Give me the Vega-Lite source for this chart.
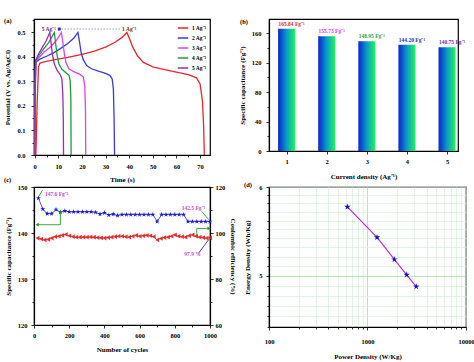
{
"$schema": "https://vega.github.io/schema/vega-lite/v6.json",
"background": "white",
"padding": {"left": 3, "top": 16, "right": 2, "bottom": 4},
"datasets": {
"gcd": [
{"r":"1 Ag⁻¹","i":0,"t":0.5,"v":0},{"r":"1 Ag⁻¹","i":1,"t":1.0,"v":0.2},{"r":"1 Ag⁻¹","i":2,"t":1.6,"v":0.36},{"r":"1 Ag⁻¹","i":3,"t":2.2,"v":0.375},{"r":"1 Ag⁻¹","i":4,"t":4,"v":0.38},{"r":"1 Ag⁻¹","i":5,"t":8,"v":0.388},{"r":"1 Ag⁻¹","i":6,"t":14,"v":0.398},{"r":"1 Ag⁻¹","i":7,"t":20,"v":0.411},{"r":"1 Ag⁻¹","i":8,"t":25,"v":0.423},{"r":"1 Ag⁻¹","i":9,"t":30,"v":0.44},{"r":"1 Ag⁻¹","i":10,"t":34,"v":0.46},{"r":"1 Ag⁻¹","i":11,"t":37,"v":0.48},{"r":"1 Ag⁻¹","i":12,"t":39,"v":0.5},{"r":"1 Ag⁻¹","i":13,"t":40,"v":0.478},{"r":"1 Ag⁻¹","i":14,"t":41.5,"v":0.44},{"r":"1 Ag⁻¹","i":15,"t":43.5,"v":0.405},{"r":"1 Ag⁻¹","i":16,"t":46,"v":0.378},{"r":"1 Ag⁻¹","i":17,"t":50,"v":0.36},{"r":"1 Ag⁻¹","i":18,"t":55,"v":0.348},{"r":"1 Ag⁻¹","i":19,"t":60,"v":0.338},{"r":"1 Ag⁻¹","i":20,"t":65,"v":0.328},{"r":"1 Ag⁻¹","i":21,"t":68.5,"v":0.315},{"r":"1 Ag⁻¹","i":22,"t":70,"v":0.29},{"r":"1 Ag⁻¹","i":23,"t":71,"v":0.22},{"r":"1 Ag⁻¹","i":24,"t":71.5,"v":0.12},{"r":"1 Ag⁻¹","i":25,"t":71.8,"v":0},
{"r":"2 Ag⁻¹","i":0,"t":0.1,"v":0},{"r":"2 Ag⁻¹","i":1,"t":0.3,"v":0.3},{"r":"2 Ag⁻¹","i":2,"t":0.6,"v":0.38},{"r":"2 Ag⁻¹","i":3,"t":2,"v":0.39},{"r":"2 Ag⁻¹","i":4,"t":5,"v":0.403},{"r":"2 Ag⁻¹","i":5,"t":8,"v":0.417},{"r":"2 Ag⁻¹","i":6,"t":11,"v":0.435},{"r":"2 Ag⁻¹","i":7,"t":14,"v":0.455},{"r":"2 Ag⁻¹","i":8,"t":16.5,"v":0.476},{"r":"2 Ag⁻¹","i":9,"t":18.3,"v":0.5},{"r":"2 Ag⁻¹","i":10,"t":19,"v":0.46},{"r":"2 Ag⁻¹","i":11,"t":19.6,"v":0.42},{"r":"2 Ag⁻¹","i":12,"t":20.5,"v":0.39},{"r":"2 Ag⁻¹","i":13,"t":22,"v":0.365},{"r":"2 Ag⁻¹","i":14,"t":24,"v":0.352},{"r":"2 Ag⁻¹","i":15,"t":27,"v":0.342},{"r":"2 Ag⁻¹","i":16,"t":30,"v":0.333},{"r":"2 Ag⁻¹","i":17,"t":31.8,"v":0.325},{"r":"2 Ag⁻¹","i":18,"t":32.8,"v":0.31},{"r":"2 Ag⁻¹","i":19,"t":33.3,"v":0.27},{"r":"2 Ag⁻¹","i":20,"t":33.6,"v":0.15},{"r":"2 Ag⁻¹","i":21,"t":33.8,"v":0},
{"r":"3 Ag⁻¹","i":0,"t":0.1,"v":0},{"r":"3 Ag⁻¹","i":1,"t":0.3,"v":0.3},{"r":"3 Ag⁻¹","i":2,"t":0.5,"v":0.385},{"r":"3 Ag⁻¹","i":3,"t":2,"v":0.4},{"r":"3 Ag⁻¹","i":4,"t":4,"v":0.42},{"r":"3 Ag⁻¹","i":5,"t":6.5,"v":0.44},{"r":"3 Ag⁻¹","i":6,"t":9,"v":0.465},{"r":"3 Ag⁻¹","i":7,"t":11.3,"v":0.5},{"r":"3 Ag⁻¹","i":8,"t":11.9,"v":0.46},{"r":"3 Ag⁻¹","i":9,"t":12.6,"v":0.41},{"r":"3 Ag⁻¹","i":10,"t":13.3,"v":0.375},{"r":"3 Ag⁻¹","i":11,"t":14.5,"v":0.352},{"r":"3 Ag⁻¹","i":12,"t":16.5,"v":0.34},{"r":"3 Ag⁻¹","i":13,"t":19,"v":0.33},{"r":"3 Ag⁻¹","i":14,"t":20.6,"v":0.318},{"r":"3 Ag⁻¹","i":15,"t":21.2,"v":0.28},{"r":"3 Ag⁻¹","i":16,"t":21.5,"v":0.18},{"r":"3 Ag⁻¹","i":17,"t":21.6,"v":0},
{"r":"4 Ag⁻¹","i":0,"t":0.05,"v":0},{"r":"4 Ag⁻¹","i":1,"t":0.2,"v":0.3},{"r":"4 Ag⁻¹","i":2,"t":0.4,"v":0.385},{"r":"4 Ag⁻¹","i":3,"t":2,"v":0.41},{"r":"4 Ag⁻¹","i":4,"t":4,"v":0.435},{"r":"4 Ag⁻¹","i":5,"t":6,"v":0.46},{"r":"4 Ag⁻¹","i":6,"t":8.3,"v":0.5},{"r":"4 Ag⁻¹","i":7,"t":8.8,"v":0.46},{"r":"4 Ag⁻¹","i":8,"t":9.5,"v":0.405},{"r":"4 Ag⁻¹","i":9,"t":10.3,"v":0.37},{"r":"4 Ag⁻¹","i":10,"t":11.5,"v":0.35},{"r":"4 Ag⁻¹","i":11,"t":13,"v":0.338},{"r":"4 Ag⁻¹","i":12,"t":14.5,"v":0.325},{"r":"4 Ag⁻¹","i":13,"t":15,"v":0.305},{"r":"4 Ag⁻¹","i":14,"t":15.3,"v":0.23},{"r":"4 Ag⁻¹","i":15,"t":15.4,"v":0},
{"r":"5 Ag⁻¹","i":0,"t":0.05,"v":0},{"r":"5 Ag⁻¹","i":1,"t":0.15,"v":0.3},{"r":"5 Ag⁻¹","i":2,"t":0.3,"v":0.385},{"r":"5 Ag⁻¹","i":3,"t":1.5,"v":0.41},{"r":"5 Ag⁻¹","i":4,"t":3,"v":0.435},{"r":"5 Ag⁻¹","i":5,"t":4.8,"v":0.465},{"r":"5 Ag⁻¹","i":6,"t":6.4,"v":0.5},{"r":"5 Ag⁻¹","i":7,"t":6.9,"v":0.46},{"r":"5 Ag⁻¹","i":8,"t":7.5,"v":0.41},{"r":"5 Ag⁻¹","i":9,"t":8.3,"v":0.372},{"r":"5 Ag⁻¹","i":10,"t":9.5,"v":0.345},{"r":"5 Ag⁻¹","i":11,"t":10.8,"v":0.328},{"r":"5 Ag⁻¹","i":12,"t":11.5,"v":0.31},{"r":"5 Ag⁻¹","i":13,"t":11.9,"v":0.25},{"r":"5 Ag⁻¹","i":14,"t":12.1,"v":0.15},{"r":"5 Ag⁻¹","i":15,"t":12.2,"v":0}
],
"bars": [
{"cd":1,"cap":165.84,"lab":"165.84 Fg⁻¹"},{"cd":2,"cap":155.73,"lab":"155.73 Fg⁻¹"},{"cd":3,"cap":148.95,"lab":"148.95 Fg⁻¹"},{"cd":4,"cap":144.20,"lab":"144.20 Fg⁻¹"},{"cd":5,"cap":140.75,"lab":"140.75 Fg⁻¹"}
],
"cap": [
{"n":25,"c":147.6},{"n":50,"c":145.2},{"n":75,"c":144.2},{"n":100,"c":144.2},{"n":125,"c":145.1},{"n":150,"c":144.5},{"n":175,"c":144.8},{"n":200,"c":144.6},{"n":225,"c":144.6},{"n":250,"c":144.6},{"n":275,"c":144.6},{"n":300,"c":144.6},{"n":325,"c":144.6},{"n":350,"c":144.5},{"n":375,"c":144.1},{"n":400,"c":144.4},{"n":425,"c":143.9},{"n":450,"c":144.1},{"n":475,"c":143.8},{"n":500,"c":144.0},{"n":525,"c":144.0},{"n":550,"c":144.0},{"n":575,"c":144.0},{"n":600,"c":144.0},{"n":625,"c":144.0},{"n":650,"c":144.0},{"n":675,"c":144.0},{"n":700,"c":142.5},{"n":725,"c":144.0},{"n":750,"c":144.0},{"n":775,"c":144.0},{"n":800,"c":144.0},{"n":825,"c":144.0},{"n":850,"c":144.0},{"n":875,"c":142.5},{"n":900,"c":142.5},{"n":925,"c":142.5},{"n":950,"c":142.5},{"n":975,"c":142.5},{"n":1000,"c":142.5}
],
"eff": [
{"n":20,"e":97.8},{"n":40,"e":97.4},{"n":60,"e":97.0},{"n":80,"e":97.2},{"n":100,"e":97.8},{"n":120,"e":98.4},{"n":140,"e":98.6},{"n":160,"e":99.0},{"n":180,"e":99.4},{"n":200,"e":98.8},{"n":220,"e":98.4},{"n":240,"e":98.2},{"n":260,"e":98.2},{"n":280,"e":98.2},{"n":300,"e":98.2},{"n":320,"e":98.3},{"n":340,"e":98.2},{"n":360,"e":98.0},{"n":380,"e":97.9},{"n":400,"e":97.8},{"n":420,"e":98.0},{"n":440,"e":98.2},{"n":460,"e":98.4},{"n":480,"e":98.6},{"n":500,"e":98.6},{"n":520,"e":98.4},{"n":540,"e":98.2},{"n":560,"e":98.6},{"n":580,"e":99.0},{"n":600,"e":98.6},{"n":620,"e":98.8},{"n":640,"e":99.0},{"n":660,"e":98.8},{"n":680,"e":98.4},{"n":700,"e":97.0},{"n":720,"e":97.6},{"n":740,"e":98.0},{"n":760,"e":98.2},{"n":780,"e":98.6},{"n":800,"e":99.2},{"n":820,"e":98.6},{"n":840,"e":98.4},{"n":860,"e":98.2},{"n":880,"e":98.8},{"n":900,"e":99.2},{"n":920,"e":98.6},{"n":940,"e":98.2},{"n":960,"e":98.0},{"n":980,"e":97.8},{"n":1000,"e":97.9}
],
"rag": [
{"p":625,"ed":5.76},{"p":1250,"ed":5.41},{"p":1875,"ed":5.17},{"p":2500,"ed":5.01},{"p":3125,"ed":4.89}
]
},
"columns": 2,
"bounds": "flush",
"spacing": {"row": 32, "column": 59},
"resolve": {"scale": {"color": "independent"}, "legend": {"color": "independent"}},
"concat": [
{
"width": 176, "height": 136,
"title": {"text": "(a)", "dx": -30, "dy": 11},
"layer": [
{"data": {"name": "gcd"}, "mark": {"type": "line", "strokeWidth": 1.3},
 "encoding": {
  "x": {"field": "t", "type": "quantitative", "scale": {"domain": [-0.3, 74.2], "nice": false, "zero": false},
        "axis": {"title": "Time (s)", "tickCount": 200, "format": "d", "values": [0,5,10,15,20,25,30,35,40,45,50,55,60,65,70], "labelExpr": "datum.value % 10 === 0 ? datum.label : ''", "tickSize": {"condition": {"test": "datum.value % 10 === 0", "value": 3}, "value": 2}, "labelPadding": 5, "titlePadding": 6}},
  "y": {"field": "v", "type": "quantitative", "scale": {"domain": [0, 0.555], "nice": false},
        "axis": {"title": "Potential (V vs. Ag/AgCl)", "tickCount": 200, "format": ".1f", "values": [0,0.05,0.1,0.15,0.2,0.25,0.3,0.35,0.4,0.45,0.5,0.55], "labelExpr": "abs(datum.value*10 - round(datum.value*10)) < 0.01 ? datum.label : ''", "tickSize": {"condition": {"test": "abs(datum.value*10 - round(datum.value*10)) < 0.01", "value": 3}, "value": 2}, "labelPadding": 6, "titlePadding": 6}},
  "color": {"field": "r", "type": "nominal", "scale": {"domain": ["1 Ag⁻¹","2 Ag⁻¹","3 Ag⁻¹","4 Ag⁻¹","5 Ag⁻¹"], "range": ["#e3282e","#3a3ad8","#e040e8","#1e9a3c","#9a2fa8"]},
            "legend": {"title": null, "orient": "none", "legendX": 143, "legendY": 3}},
  "order": {"field": "i", "type": "quantitative"}
 }},
{"data": {"values": [{"t1": 11.4, "t2": 36, "v": 0.514}]}, "mark": {"type": "rule", "strokeDash": [1, 2], "color": "#5a6ac0", "strokeWidth": 1},
 "encoding": {"x": {"field": "t1", "type": "quantitative"}, "x2": {"field": "t2"}, "y": {"field": "v", "type": "quantitative"}}},
{"data": {"values": [{"t": 10.4, "v": 0.514}]}, "mark": {"type": "point", "shape": "square", "filled": true, "color": "#2a2ad0", "size": 9, "opacity": 1},
 "encoding": {"x": {"field": "t", "type": "quantitative"}, "y": {"field": "v", "type": "quantitative"}}},
{"data": {"values": [{"t": 6.0, "v": 0.514, "s": "5 Ag⁻¹"}]}, "mark": {"type": "text", "font": "Liberation Serif", "fontWeight": "bold", "fontSize": 5.5, "color": "#6a2a8a", "baseline": "middle"},
 "encoding": {"x": {"field": "t", "type": "quantitative"}, "y": {"field": "v", "type": "quantitative"}, "text": {"field": "s"}}},
{"data": {"values": [{"t": 40.0, "v": 0.516, "s": "1 Ag⁻¹"}]}, "mark": {"type": "text", "font": "Liberation Serif", "fontWeight": "bold", "fontSize": 5.5, "color": "#6a2a2a", "baseline": "middle"},
 "encoding": {"x": {"field": "t", "type": "quantitative"}, "y": {"field": "v", "type": "quantitative"}, "text": {"field": "s"}}}
]
},
{
"width": 189, "height": 132,
"title": {"text": "(b)", "dx": -29, "dy": 10},
"data": {"name": "bars"},
"layer": [
{"mark": {"type": "bar", "size": 17, "color": {"gradient": "linear", "x1": 0, "x2": 1, "y1": 0, "y2": 0, "stops": [{"offset": 0, "color": "#0a24d0"}, {"offset": 0.5, "color": "#0a9cc8"}, {"offset": 1, "color": "#1cf858"}]}},
 "encoding": {
  "x": {"field": "cd", "type": "quantitative", "scale": {"domain": [0.686, 5.149], "nice": false, "zero": false},
        "axis": {"title": "Current density (Ag⁻¹)", "tickCount": 200, "format": "d", "values": [1,1.5,2,2.5,3,3.5,4,4.5,5], "labelExpr": "datum.value % 1 === 0 ? datum.label : ''", "tickSize": {"condition": {"test": "datum.value % 1 === 0", "value": 3}, "value": 2}, "labelPadding": 4, "titlePadding": 8}},
  "y": {"field": "cap", "type": "quantitative", "scale": {"domain": [0, 179], "nice": false},
        "axis": {"title": "Specific capacitance (Fg⁻¹)", "tickCount": 200, "format": "d", "values": [0,20,40,60,80,100,120,140,160], "labelExpr": "datum.value % 40 === 0 ? datum.label : ''", "tickSize": {"condition": {"test": "datum.value % 40 === 0", "value": 3}, "value": 2}, "labelPadding": 5, "titlePadding": 6}}
 }},
{"mark": {"type": "text", "font": "Liberation Serif", "fontWeight": "bold", "fontSize": 5.5, "baseline": "bottom", "dy": -2, "dx": 5},
 "encoding": {
  "x": {"field": "cd", "type": "quantitative"},
  "y": {"field": "cap", "type": "quantitative"},
  "text": {"field": "lab"},
  "color": {"field": "lab", "type": "nominal", "scale": {"domain": ["165.84 Fg⁻¹","155.73 Fg⁻¹","148.95 Fg⁻¹","144.20 Fg⁻¹","140.75 Fg⁻¹"], "range": ["#e02828","#d838d8","#3a9a3a","#2a2ab8","#6a30c0"]}, "legend": null}
 }}
]
},
{
"width": 176, "height": 138,
"title": {"text": "(c)", "dx": -30, "dy": 3},
"layer": [
{"layer": [
 {"data": {"name": "cap"}, "mark": {"type": "line", "color": "#2a2ad0", "strokeWidth": 0.8},
  "encoding": {
   "x": {"field": "n", "type": "quantitative", "scale": {"domain": [0, 1000], "nice": false},
         "axis": {"title": "Number of cycles", "tickCount": 200, "format": "d", "values": [0,100,200,300,400,500,600,700,800,900,1000], "labelExpr": "datum.value % 200 === 0 ? datum.label : ''", "tickSize": {"condition": {"test": "datum.value % 200 === 0", "value": 3}, "value": 2}, "labelPadding": 4, "titlePadding": 7}},
   "y": {"field": "c", "type": "quantitative", "scale": {"domain": [120, 150], "nice": false, "zero": false},
         "axis": {"title": "Specific capacitance (Fg⁻¹)", "tickCount": 200, "format": "d", "values": [120,125,130,135,140,145,150], "labelExpr": "datum.value % 10 === 0 ? datum.label : ''", "tickSize": {"condition": {"test": "datum.value % 10 === 0", "value": 3}, "value": 2}, "labelPadding": 4, "titlePadding": 6}}
  }},
 {"data": {"name": "cap"}, "mark": {"type": "point", "shape": "M0,-1L0.2245,-0.309L0.951,-0.309L0.363,0.118L0.588,0.809L0,0.382L-0.588,0.809L-0.363,0.118L-0.951,-0.309L-0.2245,-0.309Z", "filled": true, "color": "#1a1ad0", "size": 28, "opacity": 1},
  "encoding": {"x": {"field": "n", "type": "quantitative"}, "y": {"field": "c", "type": "quantitative"}}},
 {"data": {"values": [{"n": 150, "n2": 150, "c": 145.0, "c2": 141.8}, {"n": 150, "n2": 22, "c": 141.8, "c2": 141.8}, {"n": 925, "n2": 925, "c": 139.0, "c2": 141.0}, {"n": 925, "n2": 992, "c": 141.0, "c2": 141.0}, {"n": 28, "n2": 48, "c": 148.0, "c2": 149.3}, {"n": 953, "n2": 993, "c": 144.7, "c2": 142.9}]},
  "mark": {"type": "rule", "color": "#22a022", "strokeWidth": 0.9},
  "encoding": {"x": {"field": "n", "type": "quantitative"}, "x2": {"field": "n2"}, "y": {"field": "c", "type": "quantitative"}, "y2": {"field": "c2"}}},
 {"data": {"values": [{"n": 935, "n2": 993, "c": 135.6, "c2": 138.6}]},
  "mark": {"type": "rule", "color": "#2a2ad0", "strokeWidth": 0.9},
  "encoding": {"x": {"field": "n", "type": "quantitative"}, "x2": {"field": "n2"}, "y": {"field": "c", "type": "quantitative"}, "y2": {"field": "c2"}}},
 {"data": {"values": [{"n": 18, "c": 141.8}]}, "mark": {"type": "point", "shape": "triangle-left", "filled": true, "color": "#22a022", "size": 14, "opacity": 1},
  "encoding": {"x": {"field": "n", "type": "quantitative"}, "y": {"field": "c", "type": "quantitative"}}},
 {"data": {"values": [{"n": 995, "c": 141.0}]}, "mark": {"type": "point", "shape": "triangle-right", "filled": true, "color": "#22a022", "size": 14, "opacity": 1},
  "encoding": {"x": {"field": "n", "type": "quantitative"}, "y": {"field": "c", "type": "quantitative"}}},
 {"data": {"values": [{"n": 62, "c": 148.4, "s": "147.6 Fg⁻¹"}, {"n": 839, "c": 145.4, "s": "142.5 Fg⁻¹"}, {"n": 854, "c": 135.4, "s": "97.9 %"}]},
  "mark": {"type": "text", "align": "left", "baseline": "middle", "font": "Liberation Serif", "fontWeight": "bold", "fontSize": 5.5, "color": "#d040d0"},
  "encoding": {"x": {"field": "n", "type": "quantitative"}, "y": {"field": "c", "type": "quantitative"}, "text": {"field": "s"}}}
]},
{"layer": [
 {"data": {"name": "eff"}, "mark": {"type": "line", "color": "#e02020", "strokeWidth": 0.6},
  "encoding": {
   "x": {"field": "n", "type": "quantitative"},
   "y": {"field": "e", "type": "quantitative", "scale": {"domain": [60, 120], "nice": false, "zero": false},
         "axis": {"orient": "right", "title": "Coulombic efficiency (%)", "tickCount": 200, "format": "d", "values": [60,70,80,90,100,110,120], "labelExpr": "datum.value % 20 === 0 ? datum.label : ''", "tickSize": {"condition": {"test": "datum.value % 20 === 0", "value": 3}, "value": 2}, "labelPadding": 2, "titlePadding": 5}}
  }},
 {"data": {"name": "eff"}, "mark": {"type": "point", "shape": "triangle-left", "filled": true, "color": "#e02020", "size": 22, "opacity": 0.9},
  "encoding": {"x": {"field": "n", "type": "quantitative"}, "y": {"field": "e", "type": "quantitative"}}}
]}
],
"resolve": {"scale": {"y": "independent"}}
},
{
"width": 197, "height": 140,
"title": {"text": "(d)", "dx": -25, "dy": 8},
"data": {"name": "rag"},
"layer": [
{"mark": {"type": "line", "color": "#c030c8", "strokeWidth": 1.2},
 "encoding": {
  "x": {"field": "p", "type": "quantitative", "scale": {"type": "log", "domain": [100, 10000], "nice": false},
        "axis": {"title": "Power Density (W/Kg)", "tickCount": 200, "format": "d", "values": [100,200,300,400,500,600,700,800,900,1000,2000,3000,4000,5000,6000,7000,8000,9000,10000], "labelExpr": "(datum.value === 100 || datum.value === 1000 || datum.value === 10000) ? datum.label : ''", "tickSize": {"condition": {"test": "datum.value === 100 || datum.value === 1000 || datum.value === 10000", "value": 3}, "value": 2}, "grid": true, "gridColor": {"condition": {"test": "datum.value === 1000", "value": "#9ed89e"}, "value": "#d6f0d6"}, "gridWidth": 0.7, "labelPadding": 8, "titlePadding": 8}},
  "y": {"field": "ed", "type": "quantitative", "scale": {"type": "log", "domain": [4.5, 6], "nice": false},
        "axis": {"title": "Energy Density (Wh/Kg)", "tickCount": 200, "values": [4.5,4.6,4.7,4.8,4.9,5,5.1,5.2,5.3,5.4,5.5,5.6,5.7,5.8,5.9,6], "labelExpr": "(datum.value === 5 || datum.value === 6) ? datum.label : ''", "tickSize": {"condition": {"test": "datum.value === 5 || datum.value === 6", "value": 3}, "value": 2}, "grid": true, "gridColor": {"condition": {"test": "datum.value === 5", "value": "#9ed89e"}, "value": "#d6f0d6"}, "gridWidth": 0.7, "labelPadding": 4, "titlePadding": 8}}
 }},
{"mark": {"type": "point", "shape": "M0,-1L0.2245,-0.309L0.951,-0.309L0.363,0.118L0.588,0.809L0,0.382L-0.588,0.809L-0.363,0.118L-0.951,-0.309L-0.2245,-0.309Z", "filled": true, "color": "#1010d0", "size": 45, "opacity": 1},
 "encoding": {"x": {"field": "p", "type": "quantitative"}, "y": {"field": "ed", "type": "quantitative"}}}
]
}
],
"config": {
 "font": "Liberation Serif",
 "view": {"stroke": "black", "strokeWidth": 1.2},
 "title": {"font": "Liberation Serif", "fontSize": 6.5, "fontWeight": "bold", "anchor": "start", "frame": "group", "offset": 0, "color": "black"},
 "axis": {"labelFont": "Liberation Serif", "titleFont": "Liberation Serif", "labelFontWeight": "bold", "titleFontWeight": "bold", "labelFontSize": 6.5, "titleFontSize": 7, "labelColor": "black", "titleColor": "black", "domainColor": "black", "tickColor": "black", "domainWidth": 1.2, "tickWidth": 0.8, "tickSize": 3, "grid": false, "labelOverlap": false, "labelFlush": false},
 "legend": {"labelFont": "Liberation Serif", "labelFontWeight": "bold", "labelFontSize": 5.5, "labelColor": "black", "symbolType": "stroke", "symbolStrokeWidth": 1.5, "symbolSize": 110, "rowPadding": 0, "padding": 0, "labelOffset": 3}
}
}
